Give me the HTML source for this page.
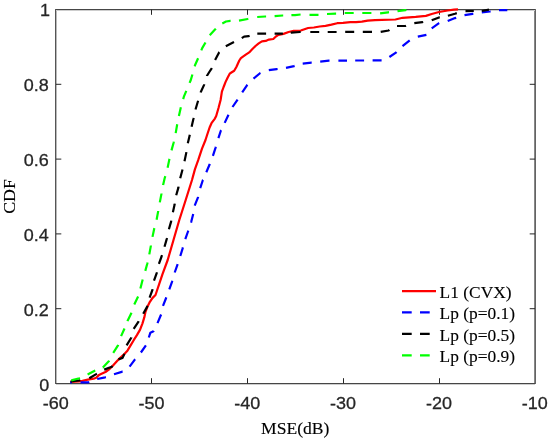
<!DOCTYPE html>
<html><head><meta charset="utf-8"><style>
html,body{margin:0;padding:0;background:#fff;}
svg{display:block;}
.tk{font-family:"Liberation Sans",Arial,sans-serif;font-size:18px;fill:#262626;stroke:#262626;stroke-width:0.3px;}
.sf{font-family:"Liberation Serif","Times New Roman",serif;font-size:18px;fill:#000;stroke:#000;stroke-width:0.12px;}
</style></head><body>
<svg width="550" height="442" viewBox="0 0 550 442">
<rect width="550" height="442" fill="#fff"/>
<g stroke="none">
<rect x="55" y="9" width="481" height="1" fill="#464646"/>
<rect x="56" y="10" width="479" height="1" fill="#cdcdcd"/>
<rect x="55" y="383" width="481" height="1" fill="#464646"/>
<rect x="56" y="384" width="479" height="1" fill="#cdcdcd"/>
<rect x="55" y="9" width="1" height="375" fill="#555555"/>
<rect x="56" y="11" width="1" height="372" fill="#b9b9b9"/>
<rect x="534" y="11" width="1" height="372" fill="#878787"/>
<rect x="535" y="9" width="1" height="375" fill="#646464"/>
</g>
<g stroke="#262626" stroke-width="1" fill="none">
<line x1="151.5" y1="383.5" x2="151.5" y2="378.2"/><line x1="151.5" y1="9.5" x2="151.5" y2="14.8"/><line x1="247.5" y1="383.5" x2="247.5" y2="378.2"/><line x1="247.5" y1="9.5" x2="247.5" y2="14.8"/><line x1="343.5" y1="383.5" x2="343.5" y2="378.2"/><line x1="343.5" y1="9.5" x2="343.5" y2="14.8"/><line x1="439.5" y1="383.5" x2="439.5" y2="378.2"/><line x1="439.5" y1="9.5" x2="439.5" y2="14.8"/><line x1="56.0" y1="308.7" x2="61.3" y2="308.7"/><line x1="535.0" y1="308.7" x2="529.7" y2="308.7"/><line x1="56.0" y1="233.9" x2="61.3" y2="233.9"/><line x1="535.0" y1="233.9" x2="529.7" y2="233.9"/><line x1="56.0" y1="159.1" x2="61.3" y2="159.1"/><line x1="535.0" y1="159.1" x2="529.7" y2="159.1"/><line x1="56.0" y1="84.3" x2="61.3" y2="84.3"/><line x1="535.0" y1="84.3" x2="529.7" y2="84.3"/>
</g>
<g fill="none" stroke-width="2.2" stroke-linejoin="round" stroke-linecap="butt">
<polyline points="70.2,381.9 75.0,381.7 79.6,381.3 82.4,380.8 87.8,379.7 93.6,378.7 96.2,377.8 99.1,374.9 100.5,374.2 105.4,372.0 109.5,369.0 112.8,365.8 116.4,361.8 119.4,358.6 123.5,354.9 127.6,350.4 130.6,345.4 133.7,340.2 136.9,335.1 140.1,329.6 142.4,323.6 144.3,317.4 145.5,311.8 147.4,306.8 149.9,301.8 152.4,298.1 155.5,295.0 157.0,290.5 159.4,283.4 162.5,274.2 167.7,260.0 173.5,240.0 179.3,220.0 185.7,200.0 192.0,180.0 194.9,169.4 198.2,160.2 202.0,148.7 205.5,140.0 207.1,135.0 209.6,127.5 211.5,123.2 214.9,118.6 216.2,116.0 218.5,108.0 220.6,100.0 221.9,91.7 223.6,87.0 225.6,81.9 227.7,77.5 229.7,73.7 231.4,72.5 234.2,70.8 236.5,66.8 239.3,60.5 240.9,58.1 245.4,54.9 249.2,52.4 251.7,49.8 255.5,46.0 258.7,43.4 261.9,41.3 265.7,40.9 268.9,39.6 273.3,39.0 275.9,36.5 278.4,34.9 283.5,33.9 288.6,32.0 293.7,30.9 300.8,30.5 308.1,28.0 313.9,27.5 319.7,26.5 325.5,25.8 331.4,24.6 337.2,23.2 343.0,22.9 350.3,22.2 356.1,22.2 361.9,21.7 367.7,20.7 375.0,20.2 395.4,19.5 402.6,17.8 415.7,16.9 425.9,15.9 431.7,14.0 439.0,12.0 447.7,10.5 454.0,9.6 458.0,9.3" stroke="#ff0000"/>
<path d="M70.2 382.3 L71.9 382.3M80.5 382.3 L88.7 382.3 L89.3 382.1M97.2 379.0 L105.2 377.3 L105.9 377.1M114.0 374.2 L122.5 371.6 L122.6 371.6M129.6 366.6 L135.0 359.4 L135.2 359.2M140.9 352.5 L145.9 345.3M148.8 337.5 L150.4 332.7 L153.5 331.2 L153.7 330.8M157.5 323.2 L161.1 314.5M163.0 305.8 L166.1 298.0 L166.3 297.4M169.3 289.4 L172.0 281.8 L172.3 280.8M174.7 272.5 L177.4 264.9 L177.7 264.1M180.3 256.0 L182.5 248.9 L182.9 247.4M185.3 239.1 L188.0 231.5 L188.3 230.7M191.0 222.6 L191.3 221.6 L193.1 214.4 L193.2 214.0M194.7 205.6 L198.0 197.4 L198.1 196.9M200.2 188.2 L202.9 180.0 L203.0 179.9M206.3 172.2 L209.6 164.5 L209.8 163.9M212.9 155.8 L215.6 147.6 L215.8 146.8M218.4 138.2 L220.9 130.5 L221.1 130.2M224.7 122.9 L228.5 114.7M232.5 107.0 L237.6 99.6 L237.6 99.6M242.2 92.3 L247.3 84.9 L247.4 84.8M253.5 78.7 L260.3 73.0 L260.5 72.9M268.8 70.2 L276.7 69.1 L277.6 69.0M286.0 67.9 L294.0 66.1 L294.6 65.9M302.7 63.6 L311.5 62.7 L311.7 62.7M320.2 61.7 L328.9 60.7 L329.5 60.7M338.4 60.6 L347.0 60.6M355.2 60.5 L364.1 60.5M372.6 60.4 L381.6 60.4M389.4 57.0 L395.9 52.6 L396.5 52.0M402.5 46.1 L409.7 40.3 L409.7 40.3M417.8 36.6 L426.4 34.8M431.7 28.3 L439.0 23.2 L439.2 23.1M447.7 21.0 L455.0 18.1 L456.2 17.7M464.5 15.1 L472.7 13.8 L473.3 13.7M481.8 12.4 L490.0 11.5 L490.6 11.4M499.0 10.2 L507.3 10.2" stroke="#0000ff"/>
<path d="M70.7 381.5 L79.4 380.4 L80.3 380.2M89.3 378.3 L95.8 374.4 L96.9 373.8M104.2 369.6 L111.8 366.8 L112.5 366.0M118.4 359.4 L122.5 357.9 L124.0 354.8 L124.3 353.7M126.6 345.4 L131.4 337.5 L131.4 337.4M133.7 328.8 L138.5 321.7 L138.8 321.2M143.2 313.7 L147.2 306.6 L147.4 305.8M149.6 297.6 L152.4 290.0 L152.5 289.1M154.0 280.7 L156.7 273.1 L156.9 272.2M158.9 263.8 L161.4 257.0 L162.0 255.1M164.5 246.7 L166.7 239.1 L167.0 237.9M168.9 229.3 L171.1 221.6 L171.3 220.6M172.9 212.2 L174.5 205.1 L174.8 203.6M176.2 195.3 L178.4 187.6 L178.6 186.6M180.2 178.2 L182.4 170.0 L182.5 169.6M184.5 161.3 L186.2 153.1 L186.4 152.1M187.8 143.3 L189.3 137.0 L189.8 134.8M191.6 126.7 L193.5 118.5 L193.6 117.9M195.5 109.5 L198.1 100.8 L198.1 100.8M200.7 92.5 L200.8 92.0 L204.2 84.6 L204.3 84.2M207.0 75.9 L207.0 75.8 L209.3 72.0 L211.7 68.3 L211.8 68.1M215.1 60.1 L219.2 52.3 L219.4 52.1M225.8 46.3 L233.0 42.6 L234.0 42.1M241.8 38.2 L244.1 36.6 L248.5 36.2 L249.6 35.8M257.3 33.7 L257.4 33.7 L266.1 33.7M274.6 33.7 L282.9 33.7M290.7 32.7 L291.2 32.6 L300.0 32.0 L300.7 32.0M310.3 32.0 L319.2 32.0M327.7 32.0 L336.6 32.0M345.2 31.9 L354.2 31.9M362.8 31.9 L372.0 31.9M380.7 31.9 L388.6 30.5 L389.4 29.8M397.0 26.0 L405.5 26.0 L406.0 25.8M414.3 23.2 L422.3 22.2 L423.2 22.0M431.7 20.3 L439.0 17.4 L439.8 17.3M447.9 15.8 L455.0 13.7 L456.8 13.1M465.5 11.1 L473.8 11.0M481.8 11.0 L489.0 9.6" stroke="#000000"/>
<path d="M71.3 380.4 L79.4 378.3 L79.9 378.1M87.6 374.4 L94.7 370.8 L95.3 370.6M102.8 367.4 L102.9 367.4 L109.0 361.0 L109.1 360.7M113.2 352.9 L113.4 352.6 L118.0 345.4 L118.2 344.8M121.1 336.2 L121.2 335.9 L124.4 328.8 L124.5 328.6M127.4 321.2 L127.5 320.9 L131.4 313.0 L131.5 312.8M134.3 304.4 L134.4 304.2 L138.1 296.5M140.4 288.4 L142.5 280.2 L142.7 279.4M145.3 270.9 L147.4 263.3 L147.6 262.5M149.3 254.4 L150.9 245.6 L150.9 245.4M152.5 236.9 L154.2 228.7 L154.4 228.1M156.6 219.7 L158.2 211.1 L158.2 210.9M159.8 202.4 L161.5 193.6 L161.5 193.5M163.1 185.0 L163.1 184.9 L164.6 178.5 L165.3 176.1M167.6 167.8 L169.3 159.6 L169.5 158.9M171.5 150.4 L173.6 142.7 L173.8 141.6M175.7 133.1 L177.0 125.5 L177.2 124.3M178.9 115.9 L180.8 107.6 L180.9 107.2M183.2 99.1 L184.0 96.3 L186.3 90.8M189.6 82.9 L190.8 80.0 L192.4 74.5M194.7 66.4 L195.0 65.3 L198.1 58.2M201.3 50.3 L202.2 48.1 L205.5 42.5M209.9 35.3 L210.4 34.5 L215.0 29.6 L215.8 28.6M222.3 23.4 L226.0 21.5 L230.3 20.9 L230.6 20.9M239.0 20.6 L239.0 20.6 L247.7 19.0 L248.3 18.9M257.2 17.0 L265.2 16.5 L266.1 16.5M274.6 16.1 L282.6 15.5 L283.2 15.5M291.4 15.2 L295.0 15.1 L300.6 14.5M309.5 14.9 L318.3 14.9 L318.5 14.9M327.0 14.0 L335.7 13.7 L336.1 13.7M344.7 13.0 L353.7 13.0M362.3 13.0 L371.4 13.0 L371.4 13.0M380.1 13.3 L388.1 12.3 L389.0 12.2M397.5 11.1 L405.5 10.1 L406.4 10.0" stroke="#00ff00"/>
</g>
<g class="tk"><text transform="translate(55.7,408.8) scale(1,0.95)" text-anchor="middle">-60</text><text transform="translate(151.5,408.8) scale(1,0.95)" text-anchor="middle">-50</text><text transform="translate(247.3,408.8) scale(1,0.95)" text-anchor="middle">-40</text><text transform="translate(343.1,408.8) scale(1,0.95)" text-anchor="middle">-30</text><text transform="translate(438.9,408.8) scale(1,0.95)" text-anchor="middle">-20</text><text transform="translate(534.7,408.8) scale(1,0.95)" text-anchor="middle">-10</text><text transform="translate(49.2,390.6) scale(1,0.95)" text-anchor="end">0</text><text transform="translate(48.8,315.8) scale(1,0.95)" text-anchor="end">0.2</text><text transform="translate(48.8,241.0) scale(1,0.95)" text-anchor="end">0.4</text><text transform="translate(48.8,166.2) scale(1,0.95)" text-anchor="end">0.6</text><text transform="translate(48.8,91.4) scale(1,0.95)" text-anchor="end">0.8</text><text transform="translate(50.0,16.1) scale(1,0.95)" text-anchor="end">1</text></g>
<g class="sf">
<text transform="translate(295.2,434.2) scale(0.977,0.95)" text-anchor="middle">MSE(dB)</text>
<text transform="translate(14.8,196.5) rotate(-90) scale(0.99,0.93)" text-anchor="middle">CDF</text>
<line x1="402" y1="291.1" x2="436" y2="291.1" stroke="#ff0000" stroke-width="2.2"/><line x1="402" y1="312.4" x2="436" y2="312.4" stroke="#0000ff" stroke-width="2.2" stroke-dasharray="9.7 8.3"/><line x1="402" y1="333.8" x2="436" y2="333.8" stroke="#000000" stroke-width="2.2" stroke-dasharray="9.7 8.3"/><line x1="402" y1="355.3" x2="436" y2="355.3" stroke="#00ff00" stroke-width="2.2" stroke-dasharray="9.7 8.3"/><text transform="translate(439.6,297.8) scale(0.966,0.95)">L1 (CVX)</text><text transform="translate(439.6,319.4) scale(0.966,0.95)">Lp (p=0.1)</text><text transform="translate(439.6,340.8) scale(0.966,0.95)">Lp (p=0.5)</text><text transform="translate(439.6,362.2) scale(0.966,0.95)">Lp (p=0.9)</text>
</g>
</svg>
</body></html>
